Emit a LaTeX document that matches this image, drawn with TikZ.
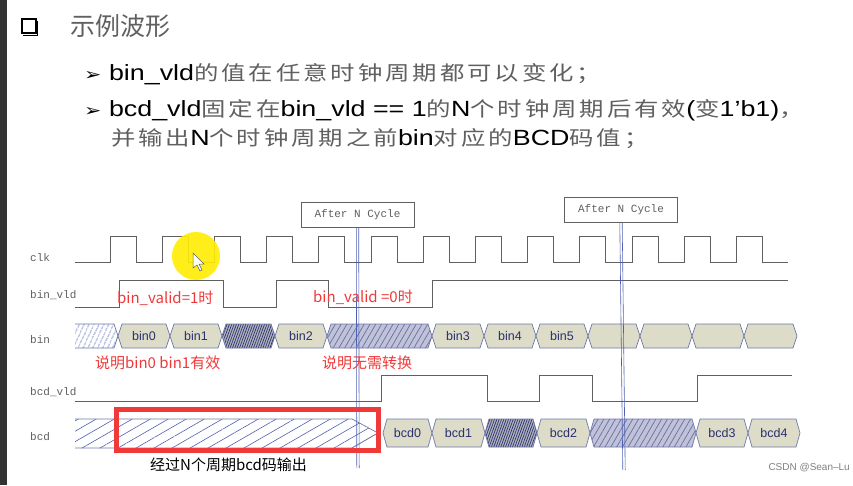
\documentclass[tikz,border=0pt]{standalone}
\usepackage{fontspec}
\usepackage{graphicx}
\setmainfont{Liberation Sans}
\newfontfamily\cjk{Noto Sans CJK SC}
\newfontfamily\cjksp[LetterSpace=12]{Noto Sans CJK SC}
\newfontfamily\dejavu{DejaVu Sans}
\newfontfamily\mono{Liberation Mono}
\usetikzlibrary{patterns.meta}
\definecolor{busfill}{HTML}{DCDCC8}
\definecolor{busline}{HTML}{7078A8}
\definecolor{navy}{HTML}{2A3070}
\definecolor{wave}{HTML}{606060}
\definecolor{redt}{HTML}{F03A3A}
\definecolor{cursorblue}{HTML}{5060B0}
\newcommand{\zh}[1]{{\cjksp\fontsize{20}{20}\selectfont\color{wave}#1}}
\newcommand{\arr}{{\dejavu\fontsize{17}{17}\selectfont ➢}\ }
\tikzset{
  sig/.style={font=\mono\fontsize{11}{11}\selectfont, text=wave, anchor=west, inner sep=0},
  wv/.style={draw=wave, line width=0.9pt},
  buslbl/.style={font=\fontsize{12.5}{13}\selectfont, text=navy, inner sep=0},
  redlbl/.style={font=\cjk\fontsize{15}{15}\selectfont, text=redt, anchor=west, inner sep=0},
  cyclebox/.style={draw=wave, line width=0.8pt, font=\mono\fontsize{11}{11}\selectfont, text=wave, minimum width=113pt, minimum height=25pt, inner sep=0},
  vline/.style={draw=cursorblue, line width=0.6pt},
  bl/.style={anchor=west, inner sep=0, font=\fontsize{22}{22}\selectfont},
}
\newcommand{\hexpath}[4]{(#1,#3) -- (#1+4,#3-#4) -- (#2-4,#3-#4) -- (#2,#3) -- (#2-4,#3+#4) -- (#1+4,#3+#4) -- cycle}
\newcommand{\plainseg}[6]{%
  \fill[busfill] \hexpath{#1}{#2}{#3}{#4};
  \draw[busline, line width=0.7pt] \hexpath{#1}{#2}{#3}{#4};
  \node[buslbl] (#6) at ({(#1+#2)/2},#3) {#5};}
\newcommand{\darkseg}[4]{%
  \fill[busfill!60!busline] \hexpath{#1}{#2}{#3}{#4};
  \fill[pattern={Lines[angle=70,distance=2.2pt,line width=0.7pt]}, pattern color=navy] \hexpath{#1}{#2}{#3}{#4};
  \draw[busline, line width=0.7pt] \hexpath{#1}{#2}{#3}{#4};}
\newcommand{\grayseg}[4]{%
  \fill[busline!45] \hexpath{#1}{#2}{#3}{#4};
  \fill[pattern={Lines[angle=60,distance=5pt,line width=0.7pt]}, pattern color=navy!70] \hexpath{#1}{#2}{#3}{#4};
  \draw[busline, line width=0.7pt] \hexpath{#1}{#2}{#3}{#4};}
\begin{document}
\begin{tikzpicture}[x=1pt,y=-1pt]
\useasboundingbox (0,0) rectangle (853,485);
\fill[white] (0,0) rectangle (853,485);
\fill[black!80] (0,0) rectangle (7,485);

% title
\node[draw=black, line width=1.6pt, minimum size=14pt, inner sep=0] (tbox) at (29,26) {};
\draw[black, line width=1.2pt] (tbox.south west)++(2,1.5) -- ++(14,0) -- ++(0,-14);
\node[anchor=west, inner sep=0, font=\cjk\fontsize{25}{25}\selectfont, text=wave] (title) at (70,26) {示例波形};
\node[bl] (l1) at (84,74) {\scalebox{1.22}[1]{\arr bin\_vld\zh{的值在任意时钟周期都可以变化；}}};
\node[bl] (l2) at (84,110) {\scalebox{1.22}[1]{\arr bcd\_vld\zh{固定在}bin\_vld == 1\zh{的}N\zh{个时钟周期后有效}(\zh{变}1’b1)\zh{，}}};
\node[bl] (l3) at (111,139) {\scalebox{1.22}[1]{\zh{并输出}N\zh{个时钟周期之前}bin\zh{对应的}BCD\zh{码值；}}};

% signal names
\node[sig] (nclk) at (30,258) {clk};
\node[sig] (nbv) at (30,295) {bin\_vld};
\node[sig] (nbin) at (30,340) {bin};
\node[sig] (ncv) at (30,392) {bcd\_vld};
\node[sig] (ncd) at (30,437) {bcd};

% clk
\draw[wv] (75,262)
  \foreach \k in {0,...,12} { -- ({110+52.2*\k},262) -- ({110+52.2*\k},236) -- ({136+52.2*\k},236) -- ({136+52.2*\k},262) }
  -- (788,262);

% bin_vld
\draw[wv] (75,307) -- (119,307) -- (119,280) -- (223,280) -- (223,307) -- (276,307) -- (276,280) -- (328,280) -- (328,307) -- (432,307) -- (432,280) -- (788,280);

% bin bus
\fill[pattern={Lines[angle=65,distance=4pt,line width=0.7pt]}, pattern color=cursorblue] (75,324) -- (114,324) -- (118,336) -- (114,348) -- (75,348) -- cycle;
\draw[busline, line width=0.7pt] (75,324) -- (114,324) -- (118,336) -- (114,348) -- (75,348);
\plainseg{118}{170}{336}{12}{bin0}{b0}
\plainseg{170}{222}{336}{12}{bin1}{b1}
\darkseg{222}{275}{336}{12}
\plainseg{275}{327}{336}{12}{bin2}{b2}
\grayseg{327}{432}{336}{12}
\plainseg{432}{484}{336}{12}{bin3}{b3}
\plainseg{484}{536}{336}{12}{bin4}{b4}
\plainseg{536}{588}{336}{12}{bin5}{b5}
\plainseg{588}{640}{336}{12}{}{b6}
\plainseg{640}{692}{336}{12}{}{b7}
\plainseg{692}{744}{336}{12}{}{b8}
\plainseg{744}{797}{336}{12}{}{b9}

% bcd_vld
\draw[wv] (75,401) -- (381,401) -- (381,375) -- (487,375) -- (487,401) -- (539,401) -- (539,375) -- (592,375) -- (592,401) -- (697,401) -- (697,375) -- (792,375);

% bcd bus
\fill[pattern={Lines[angle=30,distance=9pt,line width=0.6pt]}, pattern color=cursorblue] (75,419) -- (352,419) -- (378,433) -- (352,448) -- (75,448) -- cycle;
\draw[busline, line width=0.7pt] (75,419) -- (352,419) -- (378,433) -- (352,448) -- (75,448);
\plainseg{383}{432}{433}{14}{bcd0}{c0}
\plainseg{432}{485}{433}{14}{bcd1}{c1}
\darkseg{485}{537}{433}{14}
\plainseg{537}{590}{433}{14}{bcd2}{c2}
\grayseg{590}{696}{433}{14}
\plainseg{696}{748}{433}{14}{bcd3}{c3}
\plainseg{748}{800}{433}{14}{bcd4}{c4}

% After N Cycle boxes and lines
\node[cyclebox, fill=white] (ac1) at (357.5,214.5) {After N Cycle};
\node[cyclebox, fill=white] (ac2) at (621,210) {After N Cycle};
\coordinate (e1) at (358,468);
\coordinate (e2) at (624,470);
\draw[vline] ([xshift=-1.2pt]ac1.south) -- ([xshift=-1.2pt]e1);
\draw[vline] ([xshift=1.2pt]ac1.south) -- ([xshift=1.2pt]e1);
\draw[vline] ([xshift=-1.2pt]ac2.south) -- ([xshift=-1.2pt]e2);
\draw[vline] ([xshift=1.2pt]ac2.south) -- ([xshift=1.2pt]e2);

% red annotations
\node[redlbl] (r1) at (117,298) {bin\_valid=1时};
\node[redlbl] (r2) at (313,297) {bin\_valid =0时};
\node[redlbl] (r3) at (95,363) {说明bin0 bin1有效};
\node[redlbl] (r4) at (322,363) {说明无需转换};
\node[draw=redt, line width=4.5pt, minimum width=262pt, minimum height=41pt, inner sep=0] (rbox) at (247.5,430) {};
\node[anchor=west, inner sep=0, font=\cjk\fontsize{15}{15}\selectfont] (r5) at (150,465) {经过N个周期bcd码输出};

% cursor highlight
\fill[yellow!95!orange, opacity=0.9] (196,256) circle (24);
\draw[wave, fill=white, line width=0.5pt] (193,253) -- (193,268) -- (197,265) -- (200,271) -- (202,270) -- (199,264) -- (204,264) -- cycle;

\node[anchor=east, inner sep=0, font=\fontsize{10}{10}\selectfont, text=black!50] (wm) at (850,468) {CSDN @Sean--Lu};
\end{tikzpicture}
\end{document}
